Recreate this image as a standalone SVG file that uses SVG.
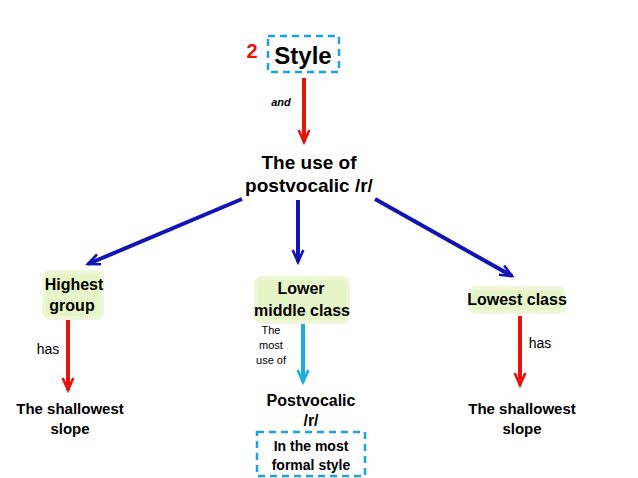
<svg xmlns="http://www.w3.org/2000/svg" width="638" height="478" viewBox="0 0 638 478">
<style>
text{font-family:"Liberation Sans",Arial,sans-serif;font-weight:bold;fill:#000;text-anchor:middle}
.n{font-size:16px}
.s{font-size:12px}
.glow{fill:#e6f5c8;stroke:#eef8d8;stroke-width:4}
.box{fill:#fff;stroke:#1aa3e0;stroke-width:2.5;stroke-dasharray:7,5}
.red{stroke:#e8140c;stroke-width:4;fill:none}
.blue{stroke:#1414b4;stroke-width:4;fill:none}
.cyan{stroke:#18aee0;stroke-width:4;fill:none}
</style>
<defs>
<marker id="ar" viewBox="0 0 12 10" refX="10" refY="5" markerWidth="4" markerHeight="4" orient="auto" markerUnits="strokeWidth"><path d="M1,1 L10,5 L1,9" fill="none" stroke="#e8140c" stroke-width="2"/></marker>
<marker id="ab" viewBox="0 0 12 10" refX="10" refY="5" markerWidth="4" markerHeight="4" orient="auto" markerUnits="strokeWidth"><path d="M1,1 L10,5 L1,9" fill="none" stroke="#1414b4" stroke-width="2"/></marker>
<marker id="ac" viewBox="0 0 12 10" refX="10" refY="5" markerWidth="4" markerHeight="4" orient="auto" markerUnits="strokeWidth"><path d="M1,1 L10,5 L1,9" fill="none" stroke="#18aee0" stroke-width="2"/></marker>
</defs>
<rect width="638" height="478" fill="#fff"/>
<g id="connectors">
<line class="red" x1="304" y1="78" x2="304" y2="142" marker-end="url(#ar)"/>
<line class="blue" x1="242" y1="199" x2="88" y2="264" marker-end="url(#ab)"/>
<line class="blue" x1="298" y1="200" x2="298" y2="262" marker-end="url(#ab)"/>
<line class="blue" x1="375" y1="199" x2="512" y2="276" marker-end="url(#ab)"/>
<line class="red" x1="68" y1="320" x2="68" y2="390" marker-end="url(#ar)"/>
<line class="cyan" x1="303" y1="324" x2="303" y2="382" marker-end="url(#ac)"/>
<line class="red" x1="520" y1="316" x2="520" y2="385" marker-end="url(#ar)"/>
<text x="281" y="106" style="font-size:11px;font-style:italic">and</text>
<text x="48" y="354" class="s" style="font-size:14px;font-weight:normal">has</text>
<text x="540" y="348" class="s" style="font-size:14px;font-weight:normal">has</text>
<text x="271" y="334" style="font-size:11px;font-weight:normal">The</text>
<text x="271" y="349" style="font-size:11px;font-weight:normal">most</text>
<text x="271" y="364" style="font-size:11px;font-weight:normal">use of</text>
</g>
<g id="n-number"><text x="252" y="58" style="font-size:20px;fill:#e8140c">2</text></g>
<g id="n-style"><rect class="box" x="268" y="36" width="71" height="36"/><text x="303" y="64" style="font-size:24px">Style</text></g>
<g id="n-use"><text x="309" y="169" style="font-size:19px">The use of</text><text x="309" y="192" style="font-size:19px">postvocalic /r/</text></g>
<g id="n-highest"><rect class="glow" x="44" y="272" width="58" height="46" rx="6"/><text x="74" y="290" class="n">Highest</text><text x="72" y="311" class="n">group</text></g>
<g id="n-lower"><rect class="glow" x="256" y="278" width="92" height="44" rx="6"/><text x="301" y="294" class="n">Lower</text><text x="302" y="316" class="n">middle class</text></g>
<g id="n-lowest"><rect class="glow" x="470" y="288" width="94" height="24" rx="6"/><text x="517" y="305" class="n">Lowest class</text></g>
<g id="n-slope1"><text x="70" y="414" style="font-size:15px">The shallowest</text><text x="70" y="434" style="font-size:15px">slope</text></g>
<g id="n-postvocalic"><text x="311" y="406" class="n">Postvocalic</text><text x="311" y="426" class="n">/r/</text></g>
<g id="n-formal"><rect class="box" x="257" y="432" width="108" height="44"/><text x="311" y="451" style="font-size:14px">In the most</text><text x="311" y="470" style="font-size:14px">formal style</text></g>
<g id="n-slope2"><text x="522" y="414" style="font-size:15px">The shallowest</text><text x="522" y="434" style="font-size:15px">slope</text></g>
</svg>
